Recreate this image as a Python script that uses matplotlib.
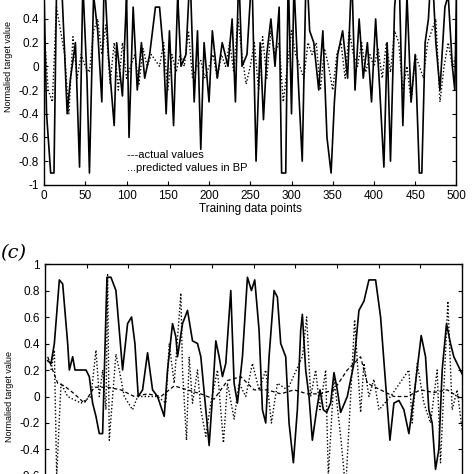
import numpy as np
import matplotlib
matplotlib.use("Agg")
import matplotlib.pyplot as plt

plt.rcParams['font.family'] = ['Liberation Sans', 'DejaVu Sans']

# ---- top panel data (training data points) ----
top_actual_x = [0,3,8,12,15,20,25,28,32,38,43,47,52,55,60,65,70,73,78,85,88,95,100,103,108,113,118,122,128,135,140,145,148,152,157,162,166,172,177,182,186,190,194,200,204,210,216,223,228,232,236,240,246,252,257,262,266,270,275,280,285,288,293,296,300,303,308,313,318,322,327,333,338,343,348,352,356,362,368,373,377,382,387,392,397,402,407,412,416,420,425,430,435,440,445,450,455,458,462,466,470,475,480,486,490,495,498,500]
top_actual_y = [0.6,-0.4,-0.9,-0.9,0.6,0.9,0.1,-0.4,-0.1,0.2,-0.85,0.7,-0.1,-0.9,0.6,0.3,-0.3,0.8,0.1,-0.5,0.2,-0.25,0.6,-0.6,0.5,-0.2,0.2,-0.1,0.1,0.5,0.5,0.1,-0.4,0.3,-0.5,0.6,0.0,0.1,0.8,-0.3,0.3,-0.7,0.2,-0.3,0.3,-0.1,0.2,0.0,0.4,-0.3,0.8,0.0,0.1,0.8,-0.8,0.2,-0.45,0.1,0.4,0.0,0.5,-0.9,-0.9,0.8,-0.4,0.7,-0.1,-0.8,0.9,0.3,0.2,-0.2,0.3,-0.6,-0.9,-0.3,0.1,0.3,-0.1,0.8,-0.2,0.4,-0.1,0.2,-0.3,0.4,-0.2,-0.85,0.2,-0.8,0.5,0.9,-0.5,0.6,-0.3,0.1,-0.9,-0.9,0.2,0.4,0.9,0.2,-0.2,0.5,0.6,0.0,-0.2,0.6]
top_pred_x = [0,5,10,15,20,25,30,35,40,45,50,55,60,65,70,75,80,85,90,95,100,105,110,115,120,125,130,135,140,145,150,155,160,165,170,175,180,185,190,195,200,205,210,215,220,225,230,235,240,245,250,255,260,265,270,275,280,285,290,295,300,305,310,315,320,325,330,335,340,345,350,355,360,365,370,375,380,385,390,395,400,405,410,415,420,425,430,435,440,445,450,455,460,465,470,475,480,485,490,495,500]
top_pred_y = [0.3,-0.2,-0.3,0.5,0.3,0.1,-0.4,0.25,-0.1,0.1,0.0,-0.05,0.3,0.4,0.1,0.35,-0.15,0.2,-0.2,0.2,-0.1,0.0,0.1,-0.15,0.15,0.0,0.1,0.05,0.0,0.2,-0.2,0.1,-0.05,0.1,0.0,0.3,-0.1,0.0,0.05,-0.1,0.0,0.1,-0.1,0.1,0.0,0.2,-0.05,0.4,0.1,-0.15,0.0,0.2,-0.2,0.25,-0.1,0.3,0.1,0.2,-0.3,0.0,0.3,0.1,0.0,-0.1,0.2,0.1,0.2,-0.2,0.15,0.0,-0.2,0.1,0.2,-0.1,0.3,0.1,0.0,0.2,-0.05,0.1,0.0,0.15,-0.1,0.2,-0.05,0.3,0.2,-0.2,0.0,-0.3,0.1,0.0,-0.1,0.2,0.3,0.4,-0.3,0.0,0.2,0.0,0.1]

# ---- bottom panel data ----
bot_solid_x = [140,150,160,175,185,200,205,215,222,240,255,265,275,285,295,305,318,330,345,365,380,392,402,412,425,440,455,470,490,500,515,525,530,545,560,575,590,600,615,625,635,645,655,665,675,690,700,710,725,740,752,762,775,785,795,805,820,830,840,855,865,878,890,900,905,915,925,935,948,958,968,978,990,1000,1010,1020,1040,1060,1075,1090,1105,1125,1140,1155,1168,1180,1195,1210,1225,1240,1262,1275,1285,1295,1305,1315,1325,1338,1350,1360,1385]
bot_solid_y = [0.27,0.25,0.4,0.88,0.85,0.4,0.2,0.3,0.2,0.2,0.2,0.15,-0.05,-0.15,-0.28,-0.28,0.9,0.9,0.8,0.2,0.55,0.6,0.4,0.0,0.05,0.33,0.05,0.0,-0.15,0.2,0.55,0.45,0.3,0.55,0.65,0.42,0.4,0.3,-0.1,-0.37,0.0,0.42,0.3,0.15,0.25,0.8,0.1,-0.05,0.3,0.9,0.8,0.88,0.5,-0.1,-0.2,0.3,0.8,0.75,0.4,0.3,-0.2,-0.5,-0.1,0.5,0.62,0.2,0.0,-0.33,-0.1,0.05,-0.1,-0.12,-0.05,0.18,0.05,-0.12,0.0,0.25,0.65,0.72,0.88,0.88,0.6,0.1,-0.33,-0.05,-0.03,-0.1,-0.28,0.0,0.46,0.3,-0.1,-0.2,-0.55,-0.4,0.2,0.55,0.4,0.3,0.17]
bot_dash_x = [140,170,190,220,250,280,320,360,400,440,480,520,560,600,640,680,720,760,800,840,880,920,960,1000,1040,1080,1100,1140,1180,1220,1260,1300,1340,1385]
bot_dash_y = [0.3,0.1,0.08,0.02,-0.05,0.07,0.07,0.05,0.0,0.02,0.0,0.08,0.05,0.02,-0.02,0.12,0.15,0.05,0.05,0.02,0.05,0.02,0.02,0.05,0.2,0.3,0.1,0.05,0.0,0.0,0.05,0.03,0.05,-0.02]
bot_dot_x = [150,160,167,180,200,240,270,285,295,305,315,320,325,335,345,355,370,395,410,440,470,495,505,520,540,545,557,565,575,590,600,615,630,650,668,680,700,715,735,755,775,795,812,830,860,905,918,930,945,958,975,983,1000,1020,1035,1050,1062,1080,1090,1105,1120,1135,1170,1225,1235,1250,1270,1290,1310,1320,1342,1355,1370,1385]
bot_dot_y = [0.2,0.35,-0.6,0.1,0.0,-0.05,0.0,0.35,0.0,0.2,-0.1,0.92,-0.33,0.0,0.32,0.2,0.0,-0.1,0.0,0.0,0.0,-0.05,0.4,0.1,0.78,0.2,-0.33,0.3,-0.05,0.2,-0.1,-0.3,-0.05,0.2,-0.35,0.1,-0.17,0.1,0.0,0.25,0.05,0.2,-0.2,0.1,0.05,0.3,0.6,0.0,0.2,-0.1,0.2,-0.6,0.15,-0.3,-0.7,0.0,0.58,-0.12,0.25,0.0,0.13,-0.1,0.0,0.2,-0.2,0.25,-0.05,-0.2,0.2,-0.5,0.72,-0.1,0.05,-0.25]

def to_pts(zx):
    return (np.array(zx) - 132) / 2.506

fig = plt.figure(figsize=(4.74, 4.74), dpi=100)

def style(ax):
    ax.tick_params(direction='in', top=True, right=True, labelsize=8.5, length=3)
    ax.set_yticks(np.arange(-1, 1.01, 0.2))
    ax.set_yticklabels(['-1','-0.8','-0.6','-0.4','-0.2','0','0.2','0.4','0.6','0.8','1'])
    ax.set_ylim(-1, 1)
    ax.set_xlim(0, 500)
    ax.set_ylabel('Normalied target value', fontsize=6.5)
    for s in ax.spines.values():
        s.set_linewidth(1.0)

ax1 = fig.add_axes([0.093, 0.610, 0.870, 0.500])
ax1.plot(top_actual_x, top_actual_y, color='black', lw=1.2)
ax1.plot(top_pred_x, top_pred_y, color='black', lw=1.0, ls=(0, (1, 1.5)))
style(ax1)
ax1.set_xticks(np.arange(0, 501, 50))
ax1.set_xlabel('Training data points', fontsize=8.5, labelpad=1)
ax1.text(0.2, 0.115, '---actual values', transform=ax1.transAxes, fontsize=8)
ax1.text(0.2, 0.06, '...predicted values in BP', transform=ax1.transAxes, fontsize=8)

ax2 = fig.add_axes([0.095, -0.116, 0.880, 0.559])
ax2.plot(to_pts(bot_solid_x), bot_solid_y, color='black', lw=1.2)
ax2.plot(to_pts(bot_dash_x), bot_dash_y, color='black', lw=0.9, ls=(0, (3, 2)))
ax2.plot(to_pts(bot_dot_x), bot_dot_y, color='black', lw=1.0, ls=(0, (1, 1.5)))
style(ax2)
ax2.set_xticks(np.arange(0, 501, 50))
ax2.set_xticklabels([])
ax2.text(0.23, 0.155, '---actual values', transform=ax2.transAxes, fontsize=8)

fig.text(0.0, 0.455, '(c)', fontsize=14, family=['DejaVu Serif'], style='italic')

fig.savefig('out.png', dpi=100)
